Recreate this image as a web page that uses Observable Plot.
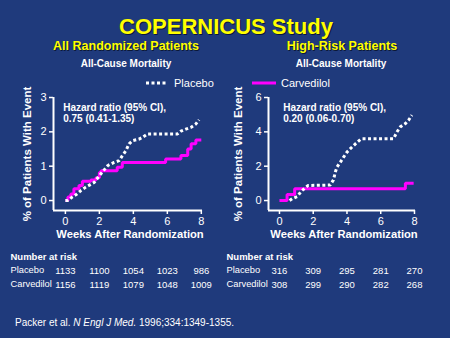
<!DOCTYPE html>
<html>
<head>
<meta charset="utf-8">
<script src="https://cdn.jsdelivr.net/npm/d3@7"></script>
<script src="https://cdn.jsdelivr.net/npm/@observablehq/plot@0.6"></script>
<style>
  html, body { margin: 0; padding: 0; background: #1f3a7c; }
  #stage { position: relative; width: 450px; height: 338px; background: #1f3a7c; overflow: hidden;
           font-family: "Liberation Sans", Arial, sans-serif; color: #fff; }
  .t { position: absolute; white-space: nowrap; line-height: 1; }
  .c { transform: translateX(-50%); }
  .abs { position: absolute; }
</style>
</head>
<body>
<div id="stage">
  <div class="t c" style="left:226px;top:16.4px;font-size:22px;font-weight:bold;color:#ffff00;text-shadow:1px 1px 0 #0b1838;">COPERNICUS Study</div>
  <div class="t c" style="left:126px;top:40.1px;font-size:12.5px;font-weight:bold;color:#ffff00;text-shadow:1px 1px 0 #0b1838;">All Randomized Patients</div>
  <div class="t c" style="left:342px;top:40.1px;font-size:12.5px;font-weight:bold;color:#ffff00;text-shadow:1px 1px 0 #0b1838;">High-Risk Patients</div>
  <div class="t c" style="left:126px;top:59.2px;font-size:10px;font-weight:bold;">All-Cause Mortality</div>
  <div class="t c" style="left:341px;top:59.2px;font-size:10px;font-weight:bold;">All-Cause Mortality</div>
  <svg class="abs" style="left:144px;top:78px" width="24" height="10"><line x1="2" y1="5" x2="22" y2="5" stroke="#fff" stroke-width="3" stroke-dasharray="3,2.5"/></svg>
  <div class="t" style="left:174px;top:77.7px;font-size:11px;">Placebo</div>
  <svg class="abs" style="left:250px;top:78px" width="28" height="10"><line x1="2" y1="5" x2="26" y2="5" stroke="#ff00ff" stroke-width="3"/></svg>
  <div class="t" style="left:281px;top:77.7px;font-size:11px;">Carvedilol</div>
  <div id="p1" class="abs" style="left:0;top:90px"></div>
  <div id="p2" class="abs" style="left:225px;top:90px"></div>
  <div id="r1" class="abs" style="left:0;top:245px"></div>
  <div id="r2" class="abs" style="left:225px;top:245px"></div>
  <div class="t" style="left:15px;top:317.8px;font-size:10px;">Packer et al. <i>N Engl J Med.</i> 1996;334:1349-1355.</div>
</div>
<script>
// ---- Data ----
const weeks = [0, 2, 4, 6, 8];

// All randomized patients: cumulative % with event
const allPlacebo = [[0,0],[0.13,0],[0.4,0.1],[0.68,0.19],[0.91,0.29],[1.2,0.39],[1.7,0.53],[2.09,0.78],[2.5,1.02],[2.87,1.11],[3.16,1.16],[3.36,1.31],[3.56,1.45],[3.75,1.65],[3.95,1.74],[4.34,1.79],[4.54,1.84],[4.83,1.94],[6.6,1.94],[6.8,2.02],[7.09,2.08],[7.38,2.13],[7.68,2.23],[7.87,2.35]];
const allCarvedilol = [[0,0],[0.15,0.1],[0.32,0.19],[0.5,0.34],[0.8,0.44],[1.0,0.56],[1.5,0.6],[1.8,0.66],[2.0,0.82],[2.1,0.87],[3.05,0.97],[3.35,1.11],[5.9,1.21],[6.8,1.31],[7.2,1.5],[7.4,1.65],[7.68,1.76],[8.0,1.76]];

// High-risk patients
const hrPlacebo = [[0.6,0],[0.75,0.1],[1.05,0.23],[1.3,0.55],[1.7,0.88],[3.0,0.9],[3.2,1.2],[3.31,1.66],[3.41,1.95],[3.61,2.24],[3.8,2.53],[4.0,2.82],[4.2,3.02],[4.5,3.3],[4.79,3.55],[4.9,3.6],[6.76,3.6],[6.96,3.99],[7.16,4.29],[7.46,4.48],[7.65,4.68],[7.85,4.97]];
const hrCarvedilol = [[0,0],[0.45,0.35],[0.9,0.68],[7.46,1.01],[7.95,1.01]];

// Number at risk
const allPlaceboRisk = [1133, 1100, 1054, 1023, 986];
const allCarvRisk = [1156, 1119, 1079, 1048, 1009];
const hrPlaceboRisk = [316, 309, 295, 281, 270];
const hrCarvRisk = [308, 299, 290, 282, 268];

const hrTexts = ["Hazard ratio (95% CI),\n0.75 (0.41-1.35)", "Hazard ratio (95% CI),\n0.20 (0.06-0.70)"];
const yTicksAll = [0, 1, 2, 3];
const yTicksHr = [0, 2, 4, 6];

const FONT = '"Liberation Sans", Arial, sans-serif';

function panel(opts) {
  const {placebo, carv, xDomain, yDomain, yTicks, ml, mr, hr, hrDx, labDx} = opts;
  return Plot.plot({
    width: 225, height: 150,
    marginLeft: ml, marginRight: mr, marginTop: 7, marginBottom: 30,
    style: {background: "transparent", color: "#fff", fontFamily: FONT, fontSize: "11px", overflow: "visible"},
    x: {domain: xDomain},
    y: {domain: yDomain},
    marks: [
      Plot.axisX({ticks: weeks, tickFormat: d => String(d), tickSize: 4, tickPadding: 3, label: null, stroke: "#fff", strokeWidth: 1.5, fill: "#fff", fontSize: 11}),
      Plot.axisY({ticks: yTicks, tickFormat: d => String(d), tickSize: 4, tickPadding: 3, label: null, stroke: "#fff", strokeWidth: 1.5, fill: "#fff", fontSize: 11}),
      Plot.ruleX([xDomain[0]], {y1: yDomain[0], y2: yDomain[1], stroke: "#fff", strokeWidth: 2}),
      Plot.ruleY([yDomain[0]], {x1: xDomain[0], x2: xDomain[1], stroke: "#fff", strokeWidth: 2}),
      Plot.line(carv, {x: d => d[0], y: d => d[1], stroke: "#ff00ff", strokeWidth: 3, curve: "step-after", strokeLinecap: "butt", strokeLinejoin: "miter"}),
      Plot.line(placebo, {x: d => d[0], y: d => d[1], stroke: "#fff", strokeWidth: 3, strokeDasharray: "3,2.5", strokeLinecap: "butt", strokeLinejoin: "miter"}),
      Plot.text([hr], {frameAnchor: "top-left", dx: hrDx, dy: 5, textAnchor: "start", lineAnchor: "top", lineHeight: 1.15, fill: "#fff", fontWeight: "bold", fontSize: 10}),
      Plot.text(["% of Patients With Event"], {frameAnchor: "left", dx: labDx, rotate: -90, textAnchor: "middle", lineAnchor: "middle", fill: "#fff", fontWeight: "bold", fontSize: 11.5}),
      Plot.text(["Weeks After Randomization"], {frameAnchor: "bottom", dx: 2, dy: 24, textAnchor: "middle", lineAnchor: "middle", fill: "#fff", fontWeight: "bold", fontSize: 11.2})
    ]
  });
}

function riskTable(opts) {
  const {placeboRisk, carvRisk, xDomain, ml, mr, labDx} = opts;
  const rows = [];
  weeks.forEach((w, i) => {
    rows.push({w, row: "Placebo", n: placeboRisk[i]});
    rows.push({w, row: "Carvedilol", n: carvRisk[i]});
  });
  const labels = [{row: "Placebo", t: "Placebo"}, {row: "Carvedilol", t: "Carvedilol"}];
  return Plot.plot({
    width: 225, height: 50,
    marginLeft: ml, marginRight: mr, marginTop: 10.7, marginBottom: 10.7,
    style: {background: "transparent", color: "#fff", fontFamily: FONT, fontSize: "9.5px", overflow: "visible"},
    x: {domain: xDomain, axis: null},
    y: {type: "point", domain: ["hdr", "Placebo", "Carvedilol"], padding: 0, axis: null},
    marks: [
      Plot.text(rows, {x: "w", y: "row", text: d => String(d.n), fill: "#fff", fontSize: 9.5, lineAnchor: "middle"}),
      Plot.text(labels, {y: "row", text: "t", frameAnchor: "left", dx: labDx, textAnchor: "start", lineAnchor: "middle", fill: "#fff", fontSize: 9.3}),
      Plot.text([{row: "hdr", t: "Number at risk"}], {y: "row", text: "t", frameAnchor: "left", dx: labDx, textAnchor: "start", lineAnchor: "middle", fill: "#fff", fontWeight: "bold", fontSize: 9.5})
    ]
  });
}

const xDomL = [-0.7, 8.07];
const xDomR = [-0.65, 8.06];

document.getElementById("p1").append(panel({placebo: allPlacebo, carv: allCarvedilol, xDomain: xDomL, yDomain: [-0.29, 3], yTicks: yTicksAll, ml: 53, mr: 23, hr: hrTexts[0], hrDx: 9.7, labDx: -26.3}));
document.getElementById("p2").append(panel({placebo: hrPlacebo, carv: hrCarvedilol, xDomain: xDomR, yDomain: [-0.58, 6], yTicks: yTicksHr, ml: 43, mr: 35, hr: hrTexts[1], hrDx: 14.7, labDx: -29.7}));
document.getElementById("r1").append(riskTable({placeboRisk: allPlaceboRisk, carvRisk: allCarvRisk, xDomain: xDomL, ml: 53, mr: 23, labDx: -43}));
document.getElementById("r2").append(riskTable({placeboRisk: hrPlaceboRisk, carvRisk: hrCarvRisk, xDomain: xDomR, ml: 43, mr: 35, labDx: -42}));
</script>
</body>
</html>
